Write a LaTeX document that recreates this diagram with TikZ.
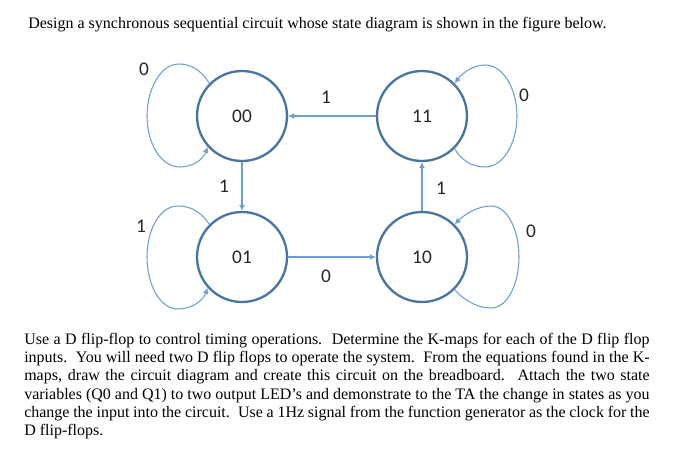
\documentclass[tikz,border=0pt]{standalone}
\usepackage{fontspec}
\setmainfont{Liberation Serif}
\newfontfamily\lab{Carlito}
\usetikzlibrary{arrows.meta}
\definecolor{ringc}{HTML}{4A75A0}
\definecolor{linec}{HTML}{6C9FD6}
\newcommand{\sentgap}{\hspace{2.2pt} }
\tikzset{
  statenode/.style={circle,draw=ringc,line width=1.75pt,minimum size=67.5pt,inner sep=0pt,font=\lab\fontsize{14.5pt}{16pt}\selectfont,text=black!85},
  edgeline/.style={draw=linec,line width=0.8pt,-{Latex[length=4.5pt,width=4.5pt]}},
  biglabel/.style={font=\lab\fontsize{14.5pt}{16pt}\selectfont,text=black!85,inner sep=0pt},
  bodytext/.style={inner sep=0pt,anchor=north west,align=justify,text width=469pt,font=\fontsize{12pt}{13.75pt}\selectfont},
}
\begin{document}
\begin{tikzpicture}[x=0.75pt,y=-0.75pt]
\useasboundingbox (0,0) rectangle (687,454);
\fill[white] (0,0) rectangle (687,454);
\node[inner sep=0pt,anchor=west,font=\fontsize{12pt}{14pt}\selectfont] (title) at (28,25) {Design a synchronous sequential circuit whose state diagram is shown in the figure below.};
\node[statenode] (s00) at (242,116) {00};
\node[statenode] (s11) at (422,116) {11};
\node[statenode] (s01) at (242,257) {01};
\node[statenode] (s10) at (422,257) {10};
\draw[edgeline] (s11) -- (s00);
\draw[edgeline] (s00) -- (s01);
\draw[edgeline] (s01) -- (s10);
\draw[edgeline] (s10) -- (s11);
\draw[edgeline] (s00.135) .. controls (201,70) and (191,64) .. (179,64) .. controls (160,64) and (147,90) .. (147,116) .. controls (147,142) and (160,167) .. (180,167) .. controls (192,167) and (203,160) .. (s00.222);
\draw[edgeline] (s01.135) .. controls (201,212) and (191,206) .. (178,206) .. controls (159,206) and (147,231) .. (147,257) .. controls (147,283) and (159,309) .. (178,309) .. controls (191,309) and (203,301) .. (s01.222);
\draw[edgeline] (s11.315) .. controls (461,160) and (472,167) .. (485,167) .. controls (504,167) and (517,142) .. (517,116) .. controls (517,90) and (504,65) .. (485,65) .. controls (474,65) and (463,72) .. (s11.45);
\draw[edgeline] (s10.315) .. controls (463,299) and (476,308) .. (491,308) .. controls (508,308) and (519,283) .. (519,257) .. controls (519,231) and (508,206) .. (491,206) .. controls (478,206) and (465,214) .. (s10.45);
\node[biglabel] (l1) at (144,69) {0};
\node[biglabel] (l2) at (326,97) {1};
\node[biglabel] (l3) at (524,95) {0};
\node[biglabel] (l4) at (224,186) {1};
\node[biglabel] (l5) at (441,188) {1};
\node[biglabel] (l6) at (141,226) {1};
\node[biglabel] (l7) at (531,231) {0};
\node[biglabel] (l8) at (326,276) {0};
\node[bodytext] (body) at (24,332.5) {Use a D flip-flop to control timing operations.\sentgap Determine the K-maps for each of the D flip flop\linebreak
inputs.\sentgap You will need two D flip flops to operate the system.\sentgap From the equations found in the K-\linebreak
maps, draw the circuit diagram and create this circuit on the breadboard.\sentgap Attach the two state\linebreak
variables (Q0 and Q1) to two output LED’s and demonstrate to the TA the change in states as you\linebreak
change the input into the circuit.\sentgap Use a 1Hz signal from the function generator as the clock for the\linebreak
D flip-flops.};
\end{tikzpicture}
\end{document}
